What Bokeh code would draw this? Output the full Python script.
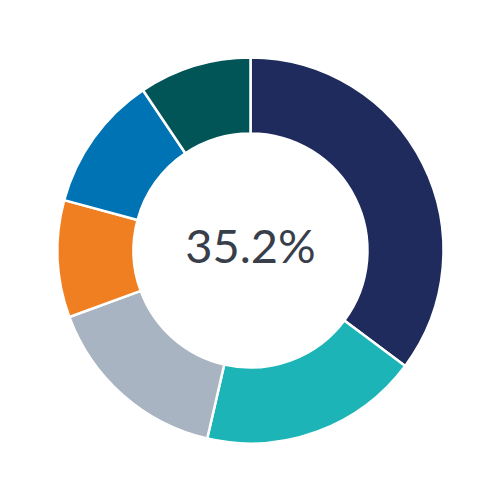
import numpy as np
from bokeh.plotting import figure
from bokeh.models import Range1d, ColumnDataSource
from bokeh.core.properties import value
from bokeh.embed import file_html
from bokeh.resources import INLINE

# slices clockwise from 12 o'clock
shares = [35.2, 18.4, 15.8, 9.8, 11.4, 9.4]
colors = ["#1e2b5c", "#1cb4b6", "#a9b4c2", "#f07f21", "#0073b4", "#025556"]
center_label = "35.2%"

frac = np.array(shares) / sum(shares)
ends = np.cumsum(frac)
starts = ends - frac
src = ColumnDataSource(dict(
    start=np.pi / 2 - starts * 2 * np.pi,
    end=np.pi / 2 - ends * 2 * np.pi,
    color=colors,
))

p = figure(width=500, height=500, output_backend="svg", toolbar_location=None,
           x_range=Range1d(-250, 250), y_range=Range1d(-250, 250),
           min_border=0, tools="")
p.axis.visible = False
p.grid.grid_line_color = None
p.outline_line_color = None

p.annular_wedge(x=0, y=0, inner_radius=117, outer_radius=193,
                start_angle="start", end_angle="end", direction="clock",
                fill_color="color", line_color="white", line_width=2.5, source=src)

p.text(x=[0], y=[0], text=[center_label], text_align="center", text_baseline="middle",
       text_font=value("Lato"), text_font_size="47px", text_color="#383e4a", y_offset=-6)

open("out.html", "w").write(file_html(p, INLINE))
